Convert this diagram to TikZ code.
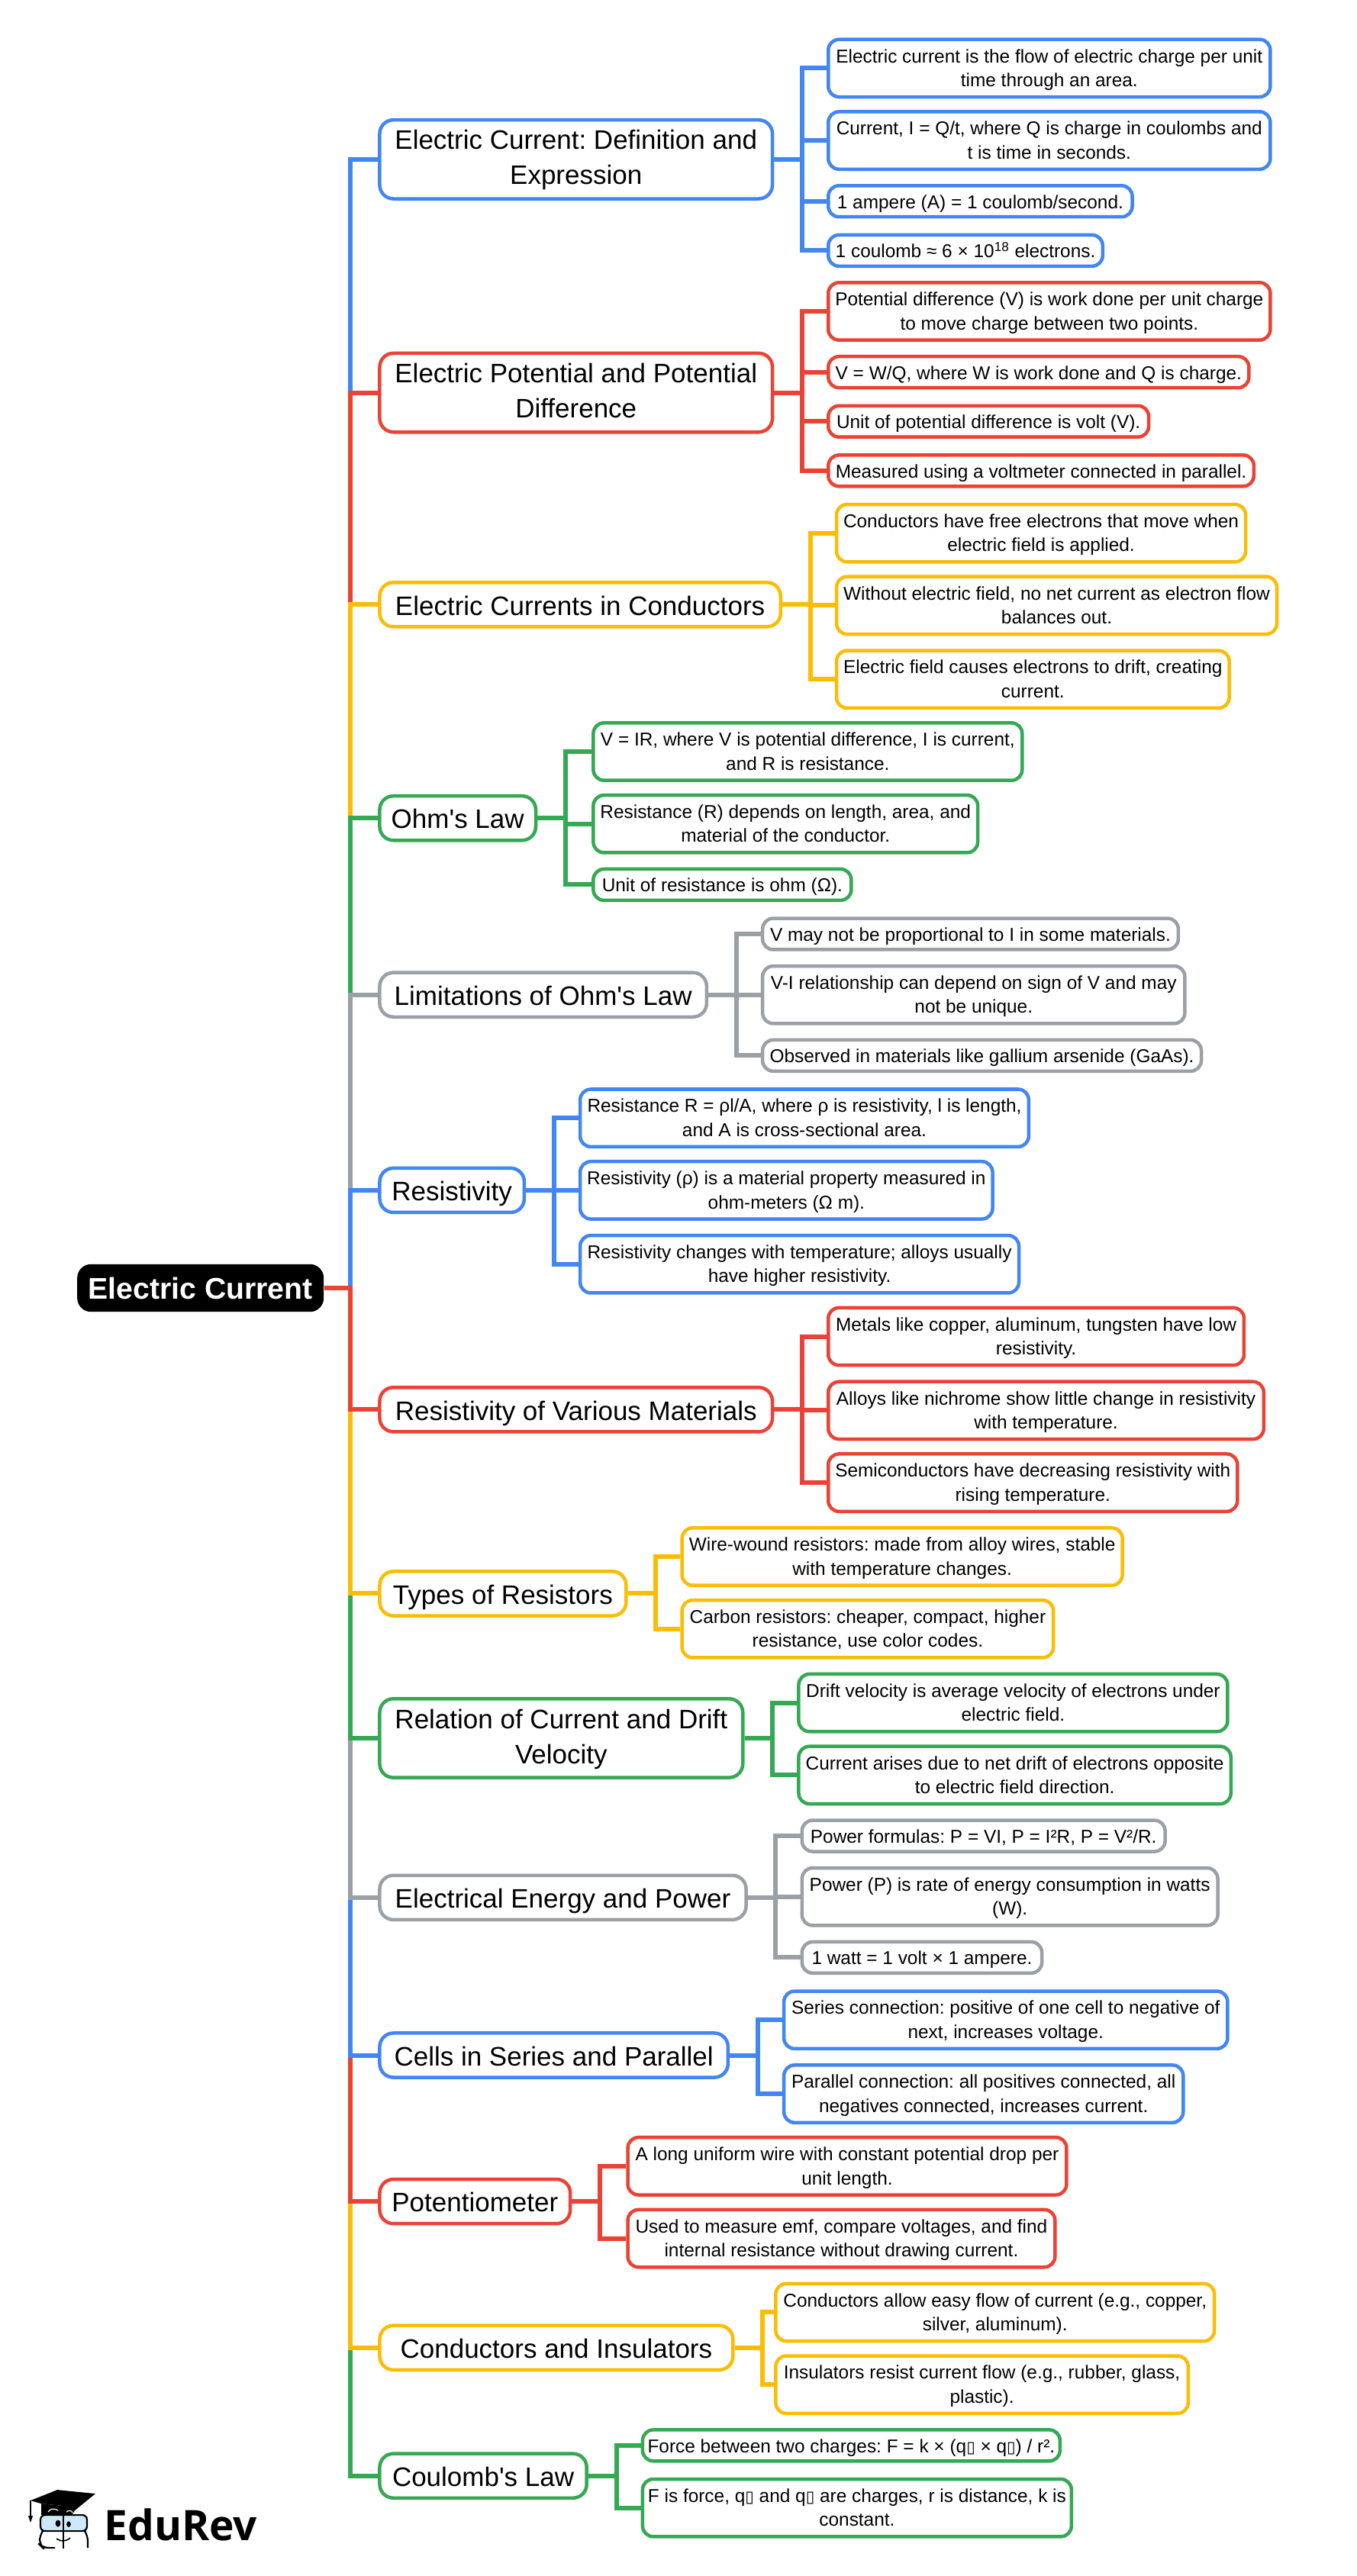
\documentclass[tikz,border=0pt]{standalone}
\usepackage{fontspec}
\setmainfont{Liberation Sans}
\newfontfamily\symfont{DejaVu Sans}
\newfontfamily\logofont{Open Sans}
\newcommand{\tofu}{{\symfont\fontsize{10.5}{10.5}\selectfont ▯}}
\def\un{1.0765pt}
\frenchspacing

\definecolor{ecblue}{HTML}{4285F4}
\definecolor{ecred}{HTML}{EA4335}
\definecolor{ecyellow}{HTML}{FBBC04}
\definecolor{ecgreen}{HTML}{34A853}
\definecolor{ecgray}{HTML}{9AA0A6}
\definecolor{ecface}{HTML}{CFE8F7}

\tikzset{
  topic/.style={draw=#1, fill=white, line width=2.25pt, rounded corners=9pt, anchor=west, align=center, inner sep=0pt, xshift=-1*\un,
    execute at begin node={\rule{0pt}{20.6pt}}, execute at end node=\strut, font=\fontsize{17.5}{23}\selectfont},
  fact/.style={draw=#1, fill=white, line width=2.25pt, rounded corners=7pt, anchor=west, align=center, inner sep=0pt, xshift=-1*\un,
    execute at begin node={\rule{0pt}{14.2pt}}, execute at end node=\strut, font=\fontsize{12.2}{15.75}\selectfont},
  wd/.style={minimum width=#1*\un},
  ht/.style={minimum height=#1*\un},
  tall/.style={ht=48, execute at begin node={\rule{0pt}{40pt}}},
  deep/.style={ht=35, execute at begin node={\rule{0pt}{28.9pt}}},
  wire/.style={draw=#1, line width=3pt, line join=miter},
}

\begin{document}
\begin{tikzpicture}[x=\un, y=-\un]
\useasboundingbox (0,0) rectangle (825.4,1568);

\node[fill=black, text=white, rounded corners=9pt, inner sep=0pt, minimum width=150*\un, minimum height=29*\un, font=\fontsize{19.6}{23}\selectfont\bfseries] (root) at (122,784) {Electric Current};
\coordinate (spine) at (213,784);

% topics
\node[topic=ecblue, wd=239, tall] (c1) at (231,97) {Electric Current: Definition and\\Expression};
\node[topic=ecred, wd=239, tall] (c2) at (231,239) {Electric Potential and Potential\\Difference};
\node[topic=ecyellow, wd=244, ht=27] (c3) at (231,368) {Electric Currents in Conductors};
\node[topic=ecgreen, wd=95, ht=27] (c4) at (231,498) {Ohm\textquotesingle{}s Law};
\node[topic=ecgray, wd=199, ht=27] (c5) at (231,605.5) {Limitations of Ohm\textquotesingle{}s Law};
\node[topic=ecblue, wd=88, ht=27] (c6) at (231,724.5) {Resistivity};
\node[topic=ecred, wd=239, ht=27] (c7) at (231,858) {Resistivity of Various Materials};
\node[topic=ecyellow, wd=150, ht=27] (c8) at (231,970) {Types of Resistors};
\node[topic=ecgreen, wd=221, tall] (c9) at (231,1058) {Relation of Current and Drift\\Velocity};
\node[topic=ecgray, wd=223, ht=27] (c10) at (231,1155) {Electrical Energy and Power};
\node[topic=ecblue, wd=212, ht=27] (c11) at (231,1251) {Cells in Series and Parallel};
\node[topic=ecred, wd=116, ht=27] (c12) at (231,1340) {Potentiometer};
\node[topic=ecyellow, wd=215, ht=27] (c13) at (231,1429) {Conductors and Insulators};
\node[topic=ecgreen, wd=126, ht=27] (c14) at (231,1507) {Coulomb\textquotesingle{}s Law};

% facts of each topic
\node[fact=ecblue, wd=269, deep] (f1a) at (504,41.5) {Electric current is the flow of electric charge per unit\\time through an area.};
\node[fact=ecblue, wd=269, deep] (f1b) at (504,85.5) {Current, I = Q/t, where Q is charge in coulombs and\\t is time in seconds.};
\node[fact=ecblue, wd=185, ht=19] (f1c) at (504,122.5) {1 ampere (A) = 1 coulomb/second.};
\node[fact=ecblue, wd=167, ht=19] (f1d) at (504,152.5) {1 coulomb ≈ 6 × 10\textsuperscript{18} electrons.};

\node[fact=ecred, wd=269, deep] (f2a) at (504,189.5) {Potential difference (V) is work done per unit charge\\to move charge between two points.};
\node[fact=ecred, wd=256, ht=19] (f2b) at (504,226.5) {V = W/Q, where W is work done and Q is charge.};
\node[fact=ecred, wd=195, ht=19] (f2c) at (504,256.5) {Unit of potential difference is volt (V).};
\node[fact=ecred, wd=259, ht=19] (f2d) at (504,286.5) {Measured using a voltmeter connected in parallel.};

\node[fact=ecyellow, wd=249, deep] (f3a) at (509,324.5) {Conductors have free electrons that move when\\electric field is applied.};
\node[fact=ecyellow, wd=268, deep] (f3b) at (509,368.5) {Without electric field, no net current as electron flow\\balances out.};
\node[fact=ecyellow, wd=239, deep] (f3c) at (509,413.5) {Electric field causes electrons to drift, creating\\current.};

\node[fact=ecgreen, wd=261, deep] (f4a) at (361,457.5) {V = IR, where V is potential difference, I is current,\\and R is resistance.};
\node[fact=ecgreen, wd=234, deep] (f4b) at (361,501.5) {Resistance (R) depends on length, area, and\\material of the conductor.};
\node[fact=ecgreen, wd=157, ht=19] (f4c) at (361,538.5) {Unit of resistance is ohm (Ω).};

\node[fact=ecgray, wd=253, ht=19] (f5a) at (464,568.5) {V may not be proportional to I in some materials.};
\node[fact=ecgray, wd=257, deep] (f5b) at (464,605.5) {V-I relationship can depend on sign of V and may\\not be unique.};
\node[fact=ecgray, wd=267, ht=19] (f5c) at (464,642.5) {Observed in materials like gallium arsenide (GaAs).};

\node[fact=ecblue, wd=273, deep] (f6a) at (353,680.5) {Resistance R = ρl/A, where ρ is resistivity, l is length,\\and A is cross-sectional area.};
\node[fact=ecblue, wd=251, deep] (f6b) at (353,724.5) {Resistivity (ρ) is a material property measured in\\ohm-meters (Ω m).};
\node[fact=ecblue, wd=267, deep] (f6c) at (353,769.5) {Resistivity changes with temperature; alloys usually\\have higher resistivity.};

\node[fact=ecred, wd=253, deep] (f7a) at (504,813.5) {Metals like copper, aluminum, tungsten have low\\resistivity.};
\node[fact=ecred, wd=265, deep] (f7b) at (504,858.5) {Alloys like nichrome show little change in resistivity\\with temperature.};
\node[fact=ecred, wd=249, deep] (f7c) at (504,902.5) {Semiconductors have decreasing resistivity with\\rising temperature.};

\node[fact=ecyellow, wd=268, deep] (f8a) at (415,947.5) {Wire-wound resistors: made from alloy wires, stable\\with temperature changes.};
\node[fact=ecyellow, wd=226, deep] (f8b) at (415,991.5) {Carbon resistors: cheaper, compact, higher\\resistance, use color codes.};

\node[fact=ecgreen, wd=261, deep] (f9a) at (486,1036.5) {Drift velocity is average velocity of electrons under\\electric field.};
\node[fact=ecgreen, wd=263, deep] (f9b) at (486,1080.5) {Current arises due to net drift of electrons opposite\\to electric field direction.};

\node[fact=ecgray, wd=221, ht=19] (f10a) at (488,1117.5) {Power formulas: P = VI, P = I²R, P = V²/R.};
\node[fact=ecgray, wd=253, deep] (f10b) at (488,1154.5) {Power (P) is rate of energy consumption in watts\\(W).};
\node[fact=ecgray, wd=146, ht=19] (f10c) at (488,1191.5) {1 watt = 1 volt × 1 ampere.};

\node[fact=ecblue, wd=270, deep] (f11a) at (477,1229.5) {Series connection: positive of one cell to negative of\\next, increases voltage.};
\node[fact=ecblue, wd=243, deep] (f11b) at (477,1274.5) {Parallel connection: all positives connected, all\\negatives connected, increases current.};

\node[fact=ecred, wd=267, deep] (f12a) at (382,1318.5) {A long uniform wire with constant potential drop per\\unit length.};
\node[fact=ecred, wd=260, deep] (f12b) at (382,1362.5) {Used to measure emf, compare voltages, and find\\internal resistance without drawing current.};

\node[fact=ecyellow, wd=267, deep] (f13a) at (472,1407.5) {Conductors allow easy flow of current (e.g., copper,\\silver, aluminum).};
\node[fact=ecyellow, wd=251, deep] (f13b) at (472,1451.5) {Insulators resist current flow (e.g., rubber, glass,\\plastic).};

\node[fact=ecgreen, wd=254, ht=19] (f14a) at (391,1488.5) {Force between two charges: F = k × (q\tofu{} × q\tofu{}) / r².};
\node[fact=ecgreen, wd=261, deep] (f14b) at (391,1526.5) {F is force, q\tofu{} and q\tofu{} are charges, r is distance, k is\\constant.};

% main branches, nearest ones over the far ones
\draw[wire=ecblue] (root.east) -- (spine) |- (c1.west);
\draw[wire=ecred] (root.east) -- (spine) |- (c2.west);
\draw[wire=ecyellow] (root.east) -- (spine) |- (c3.west);
\draw[wire=ecgreen] (root.east) -- (spine) |- (c4.west);
\draw[wire=ecgray] (root.east) -- (spine) |- (c5.west);
\draw[wire=ecblue] (root.east) -- (spine) |- (c6.west);
\draw[wire=ecgreen] (root.east) -- (spine) |- (c14.west);
\draw[wire=ecyellow] (root.east) -- (spine) |- (c13.west);
\draw[wire=ecred] (root.east) -- (spine) |- (c12.west);
\draw[wire=ecblue] (root.east) -- (spine) |- (c11.west);
\draw[wire=ecgray] (root.east) -- (spine) |- (c10.west);
\draw[wire=ecgreen] (root.east) -- (spine) |- (c9.west);
\draw[wire=ecyellow] (root.east) -- (spine) |- (c8.west);
\draw[wire=ecred] (root.east) -- (spine) |- (c7.west);

% branches to the facts
\draw[wire=ecblue] (c1.east) -- ++(17,0) |- (f1a.west);
\draw[wire=ecblue] (c1.east) -- ++(17,0) |- (f1b.west);
\draw[wire=ecblue] (c1.east) -- ++(17,0) |- (f1c.west);
\draw[wire=ecblue] (c1.east) -- ++(17,0) |- (f1d.west);
\draw[wire=ecred] (c2.east) -- ++(17,0) |- (f2a.west);
\draw[wire=ecred] (c2.east) -- ++(17,0) |- (f2b.west);
\draw[wire=ecred] (c2.east) -- ++(17,0) |- (f2c.west);
\draw[wire=ecred] (c2.east) -- ++(17,0) |- (f2d.west);
\draw[wire=ecyellow] (c3.east) -- ++(17,0) |- (f3a.west);
\draw[wire=ecyellow] (c3.east) -- ++(17,0) |- (f3b.west);
\draw[wire=ecyellow] (c3.east) -- ++(17,0) |- (f3c.west);
\draw[wire=ecgreen] (c4.east) -- ++(17,0) |- (f4a.west);
\draw[wire=ecgreen] (c4.east) -- ++(17,0) |- (f4b.west);
\draw[wire=ecgreen] (c4.east) -- ++(17,0) |- (f4c.west);
\draw[wire=ecgray] (c5.east) -- ++(17,0) |- (f5a.west);
\draw[wire=ecgray] (c5.east) -- ++(17,0) |- (f5b.west);
\draw[wire=ecgray] (c5.east) -- ++(17,0) |- (f5c.west);
\draw[wire=ecblue] (c6.east) -- ++(17,0) |- (f6a.west);
\draw[wire=ecblue] (c6.east) -- ++(17,0) |- (f6b.west);
\draw[wire=ecblue] (c6.east) -- ++(17,0) |- (f6c.west);
\draw[wire=ecred] (c7.east) -- ++(17,0) |- (f7a.west);
\draw[wire=ecred] (c7.east) -- ++(17,0) |- (f7b.west);
\draw[wire=ecred] (c7.east) -- ++(17,0) |- (f7c.west);
\draw[wire=ecyellow] (c8.east) -- ++(17,0) |- (f8a.west);
\draw[wire=ecyellow] (c8.east) -- ++(17,0) |- (f8b.west);
\draw[wire=ecgreen] (c9.east) -- ++(17,0) |- (f9a.west);
\draw[wire=ecgreen] (c9.east) -- ++(17,0) |- (f9b.west);
\draw[wire=ecgray] (c10.east) -- ++(17,0) |- (f10a.west);
\draw[wire=ecgray] (c10.east) -- ++(17,0) |- (f10b.west);
\draw[wire=ecgray] (c10.east) -- ++(17,0) |- (f10c.west);
\draw[wire=ecblue] (c11.east) -- ++(17,0) |- (f11a.west);
\draw[wire=ecblue] (c11.east) -- ++(17,0) |- (f11b.west);
\draw[wire=ecred] (c12.east) -- ++(17,0) |- (f12a.west);
\draw[wire=ecred] (c12.east) -- ++(17,0) |- (f12b.west);
\draw[wire=ecyellow] (c13.east) -- ++(17,0) |- (f13a.west);
\draw[wire=ecyellow] (c13.east) -- ++(17,0) |- (f13b.west);
\draw[wire=ecgreen] (c14.east) -- ++(17,0) |- (f14a.west);
\draw[wire=ecgreen] (c14.east) -- ++(17,0) |- (f14b.west);

% logo, in pixels of the page
\begin{scope}[x=.5pt, y=-.5pt]
\fill (75,3263) -- (125,3268) -- (98,3290) -- (84,3284) -- (54,3281) -- (40,3277) -- cycle;
\fill (54,3281) -- (84,3284) -- (98,3290) -- (94,3296) -- (54,3296) -- cycle;
\draw[white, line width=.6pt] (63,3292) .. controls (66,3287) and (72,3287) .. (76,3290);
\draw[white, line width=.6pt] (87,3292) .. controls (90,3289) and (94,3290) .. (95,3293);
\draw[line width=.7pt] (40,3277) -- (40,3298);
\fill (37,3297) -- (43,3297) -- (40,3306) -- cycle;
\draw[line width=1.1pt, fill=ecface, rounded corners=3pt] (53,3296) rectangle (114,3317);
\draw[line width=1.1pt, rounded corners=4pt] (55,3318) -- (52,3322) -- (52,3335) -- (56,3339) -- (72,3339);
\draw[line width=1.1pt, rounded corners=4pt] (112,3318) -- (115,3322) -- (115,3339);
\draw[line width=1.1pt] (83,3290) -- (83,3340);
\fill (76,3307) ellipse (3.4 and 4.5);
\fill (90,3308) ellipse (2.8 and 3.8);
\draw[line width=.8pt] (74,3327) .. controls (80,3331) and (86,3331) .. (92,3326);
\node[anchor=base west, inner sep=0pt, font=\logofont\bfseries\fontsize{27.5}{28}\selectfont] (logo) at (136,3329) {EduRev};
\end{scope}
\end{tikzpicture}
\end{document}
